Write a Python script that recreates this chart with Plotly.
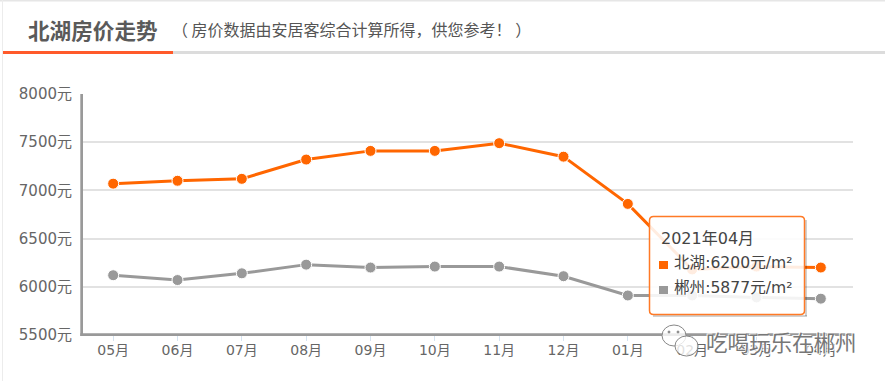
import plotly.graph_objects as go

W, H = 885, 381
L, R, T, B = 81, 853, 94, 335

months = ["05月", "06月", "07月", "08月", "09月", "10月", "11月", "12月", "01月", "02月", "03月", "04月"]
beihu = [7070, 7100, 7120, 7320, 7410, 7410, 7490, 7350, 6860, 6180, 6210, 6200]
chenzhou = [6120, 6070, 6140, 6230, 6200, 6210, 6210, 6110, 5910, 5910, 5890, 5877]
y_ticks = [5500, 6000, 6500, 7000, 7500, 8000]
y_tick_labels = ["5500元", "6000元", "6500元", "7000元", "7500元", "8000元"]

ORANGE = "#ff6600"
GRAY = "#999999"
FONT = "DejaVu Sans, Noto Sans CJK SC"
CJK = "Noto Sans CJK SC"
TXT = "#666666"


def fx(px):
    return (px - L) / (R - L)


def fy(py):
    return (B - py) / (B - T)


def rect(x0, y0, x1, y1, fill):
    return dict(type="rect", xref="paper", yref="paper", x0=fx(x0), x1=fx(x1), y0=fy(y1), y1=fy(y0),
                fillcolor=fill, line=dict(width=0), layer="above")


def rrect(x0, y0, x1, y1, r, fill, line=None, width=0):
    p = [(x0 + r, y0), (x1 - r, y0), (x1, y0 + r), (x1, y1 - r), (x1 - r, y1), (x0 + r, y1), (x0, y1 - r), (x0, y0 + r)]
    c = [f"{fx(a)},{fy(b)}" for a, b in p]
    path = (f"M{c[0]} L{c[1]} Q{fx(x1)},{fy(y0)} {c[2]} L{c[3]} Q{fx(x1)},{fy(y1)} {c[4]} "
            f"L{c[5]} Q{fx(x0)},{fy(y1)} {c[6]} L{c[7]} Q{fx(x0)},{fy(y0)} {c[0]} Z")
    return dict(type="path", xref="paper", yref="paper", path=path, fillcolor=fill,
                line=dict(color=line or fill, width=width), layer="above")


def circle(x0, y0, x1, y1, fill="rgba(255,255,255,0.8)", line="#888888"):
    return dict(type="circle", xref="paper", yref="paper", x0=fx(x0), x1=fx(x1), y0=fy(y1), y1=fy(y0),
                fillcolor=fill, line=dict(color=line, width=1), layer="above")


def label(x, y, text, size, color=TXT, bold=False, anchor="left", shadow=None, family=FONT):
    font = dict(family=family, size=size, color=color, weight="bold" if bold else "normal")
    if shadow:
        font["shadow"] = shadow
    return dict(xref="paper", yref="paper", x=fx(x), y=fy(y), text=text, showarrow=False,
                xanchor=anchor, yanchor="middle", font=font, borderpad=0)


fig = go.Figure()
for name, values, color in [("北湖", beihu, ORANGE), ("郴州", chenzhou, GRAY)]:
    fig.add_trace(go.Scatter(x=months, y=values, name=name, mode="lines+markers", cliponaxis=False,
                             line=dict(color=color, width=3),
                             marker=dict(color=color, size=11, line=dict(color="white", width=1))))

shapes = [
    rect(0, 0, W, 1.5, "#e6e6e6"),
    rect(2, 0, 3, H, "#ececec"),
    rect(3, 51, W, 54, "#dcdcdc"),
    rect(3, 51, 173, 54, "#ff5a2a"),
    rect(80.3, 94, 83, 336, GRAY),
    rect(80.3, 333.3, R, 336, GRAY),
    rect(805, 220, 807, 316, "rgba(0,0,0,0.18)"),
    rect(653, 315, 807, 317, "rgba(0,0,0,0.18)"),
    rrect(649.5, 216.5, 804.5, 314.5, 4, "rgba(255,255,255,0.88)", line="#ff7a26", width=1.5),
    rect(659, 261, 668, 269, ORANGE),
    rect(659, 286, 668, 294, GRAY),
    circle(662, 325, 686, 346),
    circle(675, 336, 698, 356),
    circle(668, 331, 670, 333, fill="#888888"),
    circle(677, 331, 679, 333, fill="#888888"),
]

outline = "1px 1px 0 rgba(255,255,255,0.9), -1px -1px 0 rgba(255,255,255,0.9)"
annotations = [
    label(27, 29, "北湖房价走势", 21.6, "#5a5a5a", bold=True, family=CJK),
    label(171, 29, "（ 房价数据由安居客综合计算所得，供您参考！ ）", 16, "#555555", family=CJK),
    label(660, 238, "2021年04月", 16, "#444444"),
    label(673, 263, "北湖:6200元/m²", 15.6, "#444444"),
    label(673, 288, "郴州:5877元/m²", 15.6, "#444444"),
    label(705, 341.5, "吃喝玩乐在郴州", 21.5, "#777777", shadow=outline, family=CJK),
]

fig.update_layout(
    width=W, height=H, autosize=False, showlegend=False,
    margin=dict(l=L, r=W - R, t=T, b=H - B),
    paper_bgcolor="white", plot_bgcolor="white",
    font=dict(family=FONT, size=14, color=TXT),
    hovermode=False,
    shapes=shapes, annotations=annotations,
    xaxis=dict(type="category", categoryorder="array", categoryarray=months, range=[-0.5, 11.5],
               showgrid=False, showline=False,
               ticks="outside", ticklen=5, tickwidth=1, tickcolor="#d5e3f0", ticklabelstandoff=-3,
               tickfont=dict(family=FONT, size=14, color=TXT), zeroline=False),
    yaxis=dict(range=[5500, 8000], tickvals=y_ticks, ticktext=y_tick_labels,
               showgrid=True, gridcolor="#e2e2e2", gridwidth=1.5,
               showline=False, ticks="", ticklabelstandoff=8,
               tickfont=dict(family=FONT, size=15, color=TXT), zeroline=False),
)

fig.write_html("out.html", config={"displayModeBar": False},
               post_script="document.body.style.margin='0';document.body.style.overflow='hidden';")
